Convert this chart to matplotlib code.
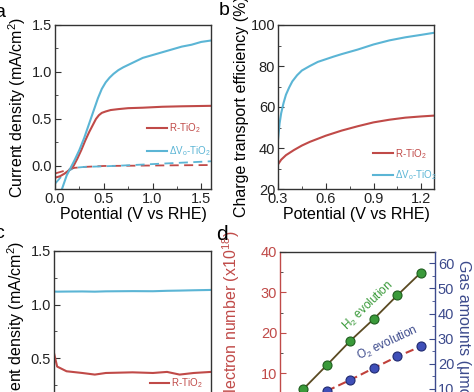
import matplotlib
matplotlib.use("Agg")
import matplotlib.pyplot as plt
from matplotlib.ticker import MultipleLocator

plt.rcParams['font.family'] = ['Liberation Sans', 'DejaVu Sans']
plt.rcParams['mathtext.default'] = 'regular'

RED = '#c04a48'
BLUE = '#5bb5d5'
GREEN = '#3a9a3a'
NAVY = '#3c4a8c'
SPINE = '#333333'

# ---- panel a: J-V curves ----
a_red_x = [0.0, 0.05, 0.10, 0.15, 0.19, 0.23, 0.27, 0.31, 0.35, 0.39, 0.42, 0.45,
           0.48, 0.52, 0.57, 0.65, 0.75, 0.90, 1.10, 1.30, 1.60]
a_red_y = [-0.125, -0.11, -0.08, -0.04, 0.0, 0.08, 0.17, 0.27, 0.36, 0.44, 0.50, 0.54,
           0.565, 0.58, 0.595, 0.605, 0.615, 0.62, 0.63, 0.635, 0.64]
a_blue_x = [0.07, 0.12, 0.16, 0.20, 0.25, 0.30, 0.35, 0.40, 0.44, 0.48, 0.52, 0.56,
            0.60, 0.65, 0.70, 0.80, 0.90, 1.00, 1.10, 1.20, 1.30, 1.40, 1.50, 1.60]
a_blue_y = [-0.25, -0.10, -0.02, 0.06, 0.17, 0.30, 0.45, 0.60, 0.72, 0.82, 0.89, 0.94,
            0.98, 1.02, 1.05, 1.10, 1.15, 1.18, 1.21, 1.24, 1.27, 1.29, 1.32, 1.335]
a_dred_x = [0.0, 0.05, 0.1, 0.15, 0.2, 0.3, 0.5, 1.0, 1.6]
a_dred_y = [-0.08, -0.065, -0.05, -0.035, -0.02, -0.01, 0.0, 0.005, 0.01]
a_dblue_x = [0.0, 0.05, 0.1, 0.15, 0.2, 0.3, 0.6, 1.0, 1.6]
a_dblue_y = [-0.19, -0.13, -0.08, -0.045, -0.02, -0.01, 0.0, 0.02, 0.05]

# ---- panel b: charge transport efficiency ----
b_x_blue = [0.30, 0.31, 0.32, 0.335, 0.35, 0.37, 0.39, 0.42, 0.45, 0.50, 0.55, 0.60,
            0.65, 0.70, 0.80, 0.90, 1.00, 1.10, 1.20, 1.28]
b_y_blue = [44.0, 52.0, 57.0, 62.0, 66.0, 69.5, 72.5, 75.5, 77.8, 80.0, 82.0, 83.3,
            84.6, 85.8, 88.0, 90.5, 92.5, 94.0, 95.2, 96.2]
b_x_red = [0.30, 0.32, 0.35, 0.40, 0.45, 0.50, 0.60, 0.70, 0.80, 0.90, 1.00, 1.10,
           1.20, 1.28]
b_y_red = [32.0, 34.3, 36.5, 39.0, 41.2, 43.0, 46.0, 48.5, 50.6, 52.5, 53.8, 54.8,
           55.4, 55.8]

# ---- panel c: stability ----
c_x = [0, 2, 8, 18, 26, 33, 50, 63, 72, 80, 89, 100]
c_red = [0.546, 0.42, 0.376, 0.36, 0.345, 0.36, 0.366, 0.36, 0.37, 0.345, 0.36, 0.37]
c_blue = [1.121, 1.120, 1.121, 1.122, 1.120, 1.123, 1.125, 1.124, 1.128, 1.130, 1.133, 1.136]

# ---- panel d: gas evolution ----
d_h2_t = [10, 20, 30, 40, 50, 60]
d_h2 = [10.0, 19.5, 29.2, 37.9, 47.3, 56.3]
d_o2_t = [20, 30, 40, 50, 60]
d_o2 = [9.2, 13.6, 18.3, 22.9, 26.9]

fig = plt.figure(figsize=(4.74, 3.92), dpi=100)

def style(ax):
    for s in ax.spines.values():
        s.set_color(SPINE)
        s.set_linewidth(1.0)
    ax.tick_params(direction='in', which='both', labelsize=10.5, colors=SPINE,
                   labelcolor='#222222', pad=2)
    ax.tick_params(which='major', length=4)
    ax.tick_params(which='minor', length=2.5)

# panel a
axa = fig.add_axes([55/474, 1-189/392, 156/474, 164/392])
style(axa)
axa.plot(a_dred_x, a_dred_y, '--', color=RED, lw=1.3, dashes=(5, 3))
axa.plot(a_dblue_x, a_dblue_y, '--', color=BLUE, lw=1.3, dashes=(5, 3))
axa.plot(a_red_x, a_red_y, color=RED, lw=1.5, label='R-TiO$_2$')
axa.plot(a_blue_x, a_blue_y, color=BLUE, lw=1.5, label='ΔV$_o$-TiO$_2$')
axa.set_xlim(0, 1.6)
axa.set_ylim(-0.245, 1.5)
axa.xaxis.set_minor_locator(MultipleLocator(0.25))
axa.yaxis.set_minor_locator(MultipleLocator(0.25))
axa.set_xticks([0.0, 0.5, 1.0, 1.5])
axa.set_xticklabels(['0.0', '0.5', '1.0', '1.5'])
axa.set_yticks([0.0, 0.5, 1.0, 1.5])
axa.set_yticklabels(['0.0', '0.5', '1.0', '1.5'])
axa.set_xlabel('Potential (V vs RHE)', fontsize=11.5, labelpad=1)
axa.set_ylabel('Current density (mA/cm$^2$)', fontsize=11.5, labelpad=3)
axa.legend(loc='center left', bbox_to_anchor=(0.56, 0.30), frameon=False,
           fontsize=7, labelcolor='linecolor', handlelength=2.0,
           handletextpad=0.2, labelspacing=1.0, borderpad=0)

# panel b
axb = fig.add_axes([278/474, 1-189/392, 156/474, 164/392])
style(axb)
axb.plot(b_x_red, b_y_red, color=RED, lw=1.5, label='R-TiO$_2$')
axb.plot(b_x_blue, b_y_blue, color=BLUE, lw=1.5, label='ΔV$_o$-TiO$_2$')
axb.set_xlim(0.3, 1.28)
axb.set_ylim(20, 100)
axb.set_xticks([0.3, 0.6, 0.9, 1.2])
axb.xaxis.set_minor_locator(MultipleLocator(0.15))
axb.set_yticks([20, 40, 60, 80, 100])
axb.yaxis.set_minor_locator(MultipleLocator(10))
axb.set_xlabel('Potential (V vs RHE)', fontsize=11.5, labelpad=1)
axb.set_ylabel('Charge transport efficiency (%)', fontsize=11.5, labelpad=1)
axb.legend(loc='center left', bbox_to_anchor=(0.58, 0.15), frameon=False,
           fontsize=7, labelcolor='linecolor', handlelength=2.0,
           handletextpad=0.2, labelspacing=0.8, borderpad=0)

# panel c
axc = fig.add_axes([54/474, 1-411.5/392, 157/474, 160.5/392])
style(axc)
axc.plot(c_x, c_blue, color=BLUE, lw=1.5)
axc.plot(c_x, c_red, color=RED, lw=1.5, label='R-TiO$_2$')
axc.set_xlim(0, 100)
axc.set_ylim(0, 1.5)
axc.set_yticks([0.5, 1.0, 1.5])
axc.yaxis.set_minor_locator(MultipleLocator(0.25))
axc.set_xticks([])
axc.set_ylabel('Current density (mA/cm$^2$)', fontsize=11.5, labelpad=3)
axc.legend(loc='center left', bbox_to_anchor=(0.58, 0.178), frameon=False,
           fontsize=7, labelcolor='linecolor', handlelength=2.0,
           handletextpad=0.2, borderpad=0)

# panel d
axd = fig.add_axes([280/474, 1-414/392, 155/474, 162/392])
style(axd)
axd.set_ylim(0, 40)
axd.set_xlim(0, 66)
axd.set_xticks([])
axd.set_yticks([10, 20, 30, 40])
axd.yaxis.set_minor_locator(MultipleLocator(5))
axd.spines['left'].set_color(RED)
axd.spines['right'].set_visible(False)
axd.tick_params(axis='y', colors=RED, labelcolor=RED)
axd.set_ylabel('Electron number (x10$^{18}$)', fontsize=11.5, color=RED)
axd.yaxis.set_label_coords(-0.245, 0.60)
axd2 = axd.twinx()
axd2.set_ylim(0, 64.5)
axd2.set_xlim(0, 66)
for s in axd2.spines.values():
    s.set_visible(False)
axd2.spines['right'].set_visible(True)
axd2.spines['right'].set_color(NAVY)
axd2.spines['right'].set_linewidth(1.0)
axd2.set_yticks([10, 20, 30, 40, 50, 60])
axd2.yaxis.set_minor_locator(MultipleLocator(5))
axd2.tick_params(axis='y', direction='in', which='both', colors=NAVY,
                 labelcolor=NAVY, labelsize=10.5, pad=2)
axd2.tick_params(which='major', length=4)
axd2.tick_params(which='minor', length=2.5)
axd2.set_ylabel('Gas amounts (μmol)', fontsize=11.5, color=NAVY, rotation=270,
                labelpad=12)
axd2.plot(d_h2_t, d_h2, '-', color='#5a4a22', lw=1.3, zorder=2)
axd2.plot(d_o2_t, d_o2, '--', color='#c0403a', lw=1.5, dashes=(4, 2), zorder=2)
axd2.plot(d_h2_t, d_h2, 'o', color=GREEN, mec='#1f5f1f', ms=6.5, mew=0.8, zorder=3)
axd2.plot(d_o2_t, d_o2, 'o', color='#3f4fb8', mec='#1f2a70', ms=6.5, mew=0.8, zorder=3)
axd2.text(37.5, 43, 'H$_2$ evolution', color=GREEN, fontsize=8.5, rotation=44,
          ha='center', va='center')
axd2.text(46, 28, 'O$_2$ evolution', color=NAVY, fontsize=8.5, rotation=25,
          ha='center', va='center')

# panel letters (mostly cropped in the reference)
fig.text(-6/474, 1-17/392, 'a', fontsize=14, ha='left', va='baseline')
fig.text(219/474, 1-15/392, 'b', fontsize=14, ha='left', va='baseline')
fig.text(-6/474, 1-238/392, 'c', fontsize=14, ha='left', va='baseline')
fig.text(216/474, 1-240/392, 'd', fontsize=15, ha='left', va='baseline')

fig.savefig('out.png', dpi=100)
